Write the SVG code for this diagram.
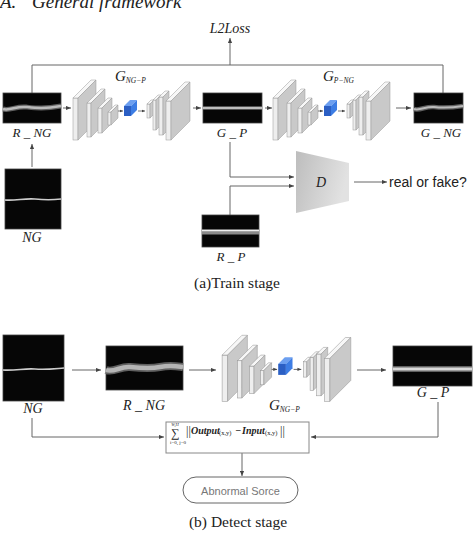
<svg xmlns="http://www.w3.org/2000/svg" width="474" height="556" viewBox="0 0 474 556">
<style>
.ln{fill:none;stroke:#666;stroke-width:1}
.ar{fill:none;stroke:#666;stroke-width:1;marker-end:url(#ah)}
.as{fill:none;stroke:#555;stroke-width:0.8;marker-end:url(#ahs)}
.img{fill:#060606;stroke:#444;stroke-width:0.8}
.it{font-family:"Liberation Serif","Times New Roman",serif;font-style:italic;fill:#222}
.rm{font-family:"Liberation Serif","Times New Roman",serif;fill:#222}
.sa{font-family:"Liberation Sans",Arial,sans-serif;fill:#222}
.fr{fill:#eeeeee;stroke:#999;stroke-width:0.5}
.tp{fill:#f7f7f7;stroke:#999;stroke-width:0.5}
.sd{fill:#c9c9c9;stroke:#999;stroke-width:0.5}
.fm{font-family:"Liberation Serif","Times New Roman",serif;font-style:italic;font-weight:bold;fill:#222}
</style>
<defs>
<marker id="ah" viewBox="0 0 6 6" refX="6" refY="3" markerWidth="5" markerHeight="5" markerUnits="userSpaceOnUse" orient="auto"><path d="M0,0.5 L6,3 L0,5.5 z" fill="#444"/></marker>
<marker id="ahs" viewBox="0 0 6 6" refX="6" refY="3" markerWidth="3.5" markerHeight="3.5" markerUnits="userSpaceOnUse" orient="auto"><path d="M0,0.5 L6,3 L0,5.5 z" fill="#444"/></marker>
<linearGradient id="dg" x1="0" y1="0" x2="1" y2="0.3"><stop offset="0" stop-color="#bdbdbd"/><stop offset="1" stop-color="#e2e2e2"/></linearGradient>
<g id="gen">
<rect class="fr" x="1" y="21" width="5" height="42"/>
<polygon class="tp" points="1,21 19,3 24,3 6,21"/>
<polygon class="sd" points="6,21 24,3 24,45 6,63"/>
<rect class="fr" x="15" y="26" width="4" height="34"/>
<polygon class="tp" points="15,26 29,12 33,12 19,26"/>
<polygon class="sd" points="19,26 33,12 33,46 19,60"/>
<rect class="fr" x="26" y="31" width="4" height="25"/>
<polygon class="tp" points="26,31 36,21 40,21 30,31"/>
<polygon class="sd" points="30,31 40,21 40,46 30,56"/>
<rect class="fr" x="36" y="35" width="3" height="13"/>
<polygon class="tp" points="36,35 43,28 46,28 39,35"/>
<polygon class="sd" points="39,35 46,28 46,41 39,48"/>
<path class="as" d="M46,34 H51"/>
<rect x="52" y="29" width="7" height="10" fill="#2b5fc4"/>
<polygon points="52,29 58,23 65,23 59,29" fill="#6c9ff0"/>
<polygon points="59,29 65,23 65,33 59,39" fill="#3d7de4"/>
<path class="as" d="M66,34 H73"/>
<rect class="fr" x="75" y="27" width="3" height="14"/>
<polygon class="tp" points="75,27 79,23 82,23 78,27"/>
<polygon class="sd" points="78,27 82,23 82,37 78,41"/>
<rect class="fr" x="81" y="23" width="3" height="30"/>
<polygon class="tp" points="81,23 86,18 89,18 84,23"/>
<polygon class="sd" points="84,23 89,18 89,48 84,53"/>
<rect class="fr" x="87" y="20" width="4" height="38"/>
<polygon class="tp" points="87,20 93,14 97,14 91,20"/>
<polygon class="sd" points="91,20 97,14 97,52 91,58"/>
<rect class="fr" x="94" y="24" width="5" height="39"/>
<polygon class="tp" points="94,24 113,5 118,5 99,24"/>
<polygon class="sd" points="99,24 118,5 118,44 99,63"/>
</g>
</defs>
<rect width="474" height="556" fill="#fff"/>

<text class="it" y="8" font-size="19"><tspan x="0">A.</tspan><tspan x="32">General framework</tspan></text>

<g id="connectors">
<path class="ln" d="M32,93 V65 H443 V93"/>
<path class="ar" d="M230,65 V38"/>
<path class="ar" d="M32,167 V144"/>
<path class="ar" d="M63,108 H71"/>
<path class="ar" d="M193,108 H201"/>
<path class="ar" d="M265,108 H272"/>
<path class="ar" d="M396,108 H411"/>
<path class="ar" d="M230,142 V177 H294"/>
<path class="ar" d="M230,215 V186 H294"/>
<path class="ar" d="M354,182 H387"/>
<path class="ar" d="M72,370 H101"/>
<path class="ar" d="M189,370 H216"/>
<path class="ar" d="M357,370 H386"/>
<path class="ar" d="M32,418 V437 H164"/>
<path class="ar" d="M438,402 V437 H311"/>
<path class="ar" d="M242,453 V476"/>
</g>

<g id="l2loss"><text class="it" x="230" y="33" font-size="14" text-anchor="middle">L2Loss</text></g>

<g id="r_ng_top">
<rect class="img" x="3" y="93" width="58" height="30"/>
<path d="M3,109 C10,111 16,106 26,107 S44,109 61,106" fill="none" stroke="#777" stroke-width="5" opacity="0.8"/>
<path d="M3,109 C10,111 16,106 26,107 S44,109 61,106" fill="none" stroke="#bbb" stroke-width="2.5"/>
<text class="it" x="32" y="137" font-size="13" text-anchor="middle">R _ NG</text>
</g>

<g id="gen1"><use href="#gen" transform="translate(72,77)"/>
<text class="it" x="115" y="81" font-size="15">G<tspan font-size="7.5" dy="2">NG−P</tspan></text></g>

<g id="g_p_top">
<rect class="img" x="203" y="93" width="59" height="30"/>
<path d="M203,108 H262" stroke="#666" stroke-width="4" opacity="0.8"/>
<path d="M203,108 H262" stroke="#e4e4e4" stroke-width="1.5"/>
<text class="it" x="232" y="137" font-size="13" text-anchor="middle">G _ P</text>
</g>

<g id="gen2"><use href="#gen" transform="translate(272,77)"/>
<text class="it" x="323" y="81" font-size="15">G<tspan font-size="7.5" dy="2">P−NG</tspan></text></g>

<g id="g_ng_top">
<rect class="img" x="414" y="93" width="49" height="30"/>
<path d="M414,109 C420,111 426,106 434,107 S450,108 463,106" fill="none" stroke="#777" stroke-width="4.5" opacity="0.8"/>
<path d="M414,109 C420,111 426,106 434,107 S450,108 463,106" fill="none" stroke="#bbb" stroke-width="2"/>
<text class="it" x="441" y="137" font-size="13" text-anchor="middle">G _ NG</text>
</g>

<g id="ng_top">
<rect class="img" x="5" y="169" width="56" height="60"/>
<path d="M5,200 C15,201 25,198 35,199 S52,200 61,199" fill="none" stroke="#ccc" stroke-width="1.6"/>
<text class="it" x="32" y="242" font-size="14" text-anchor="middle">NG</text>
</g>

<g id="r_p">
<rect class="img" x="202" y="215" width="57" height="32"/>
<path d="M202,232 H259" stroke="#8a8a8a" stroke-width="5"/>
<path d="M202,230.5 H259" stroke="#eee" stroke-width="1.5"/>
<text class="it" x="231" y="261" font-size="13" text-anchor="middle">R _ P</text>
</g>

<g id="d">
<polygon points="296,151 349,163 349,201 296,213" fill="url(#dg)"/>
<text class="it" x="321" y="187" font-size="14" text-anchor="middle">D</text>
</g>
<text class="sa" x="389" y="187" font-size="14">real or fake?</text>

<text class="rm" x="237" y="288" font-size="15.5" text-anchor="middle">(a)Train stage</text>

<g id="ng_bot">
<rect class="img" x="3" y="335" width="61" height="66"/>
<path d="M3,370 C15,371 25,368 35,369 S52,369 64,368" fill="none" stroke="#ccc" stroke-width="1.6"/>
<text class="it" x="33" y="413" font-size="14" text-anchor="middle">NG</text>
</g>

<g id="r_ng_bot">
<rect class="img" x="106" y="346" width="77" height="44"/>
<path d="M106,370 C114,373 120,366 130,367 S150,369 160,367 S175,366 183,367" fill="none" stroke="#777" stroke-width="8" opacity="0.8"/>
<path d="M106,370 C114,373 120,366 130,367 S150,369 160,367 S175,366 183,367" fill="none" stroke="#b5b5b5" stroke-width="4.5"/>
<text class="it" x="144" y="410" font-size="14" text-anchor="middle">R _ NG</text>
</g>

<g id="gen3"><use href="#gen" transform="translate(221,332) scale(1.1)"/>
<text class="it" x="269" y="410" font-size="15">G<tspan font-size="7.5" dy="2">NG−P</tspan></text></g>

<g id="g_p_bot">
<rect class="img" x="393" y="346" width="79" height="40"/>
<path d="M393,369 H472" stroke="#777" stroke-width="6" opacity="0.8"/>
<path d="M393,369 H472" stroke="#d8d8d8" stroke-width="3"/>
<text class="it" x="433" y="397" font-size="14" text-anchor="middle">G _ P</text>
</g>

<g id="formula">
<rect x="166" y="422" width="143" height="31" fill="#fff" stroke="#888" stroke-width="1"/>
<text class="rm" x="175" y="437" font-size="12" text-anchor="middle">∑</text>
<text class="it" x="175" y="426" font-size="4.5" text-anchor="middle">W,H</text>
<text class="rm" x="178" y="444" font-size="5" text-anchor="middle">i=0, j=0</text>
<text class="rm" x="186" y="434.5" font-size="12">||</text>
<text class="fm" x="191" y="434" font-size="10">Output</text>
<text class="rm" x="219" y="435" font-size="6.5">(x,y)</text>
<text class="fm" x="235" y="434" font-size="10">−</text>
<text class="fm" x="242" y="434" font-size="10">Input</text>
<text class="rm" x="265" y="435" font-size="6.5">(x,y)</text>
<text class="rm" x="280" y="434.5" font-size="12">||</text>
</g>

<g id="score">
<rect x="183" y="477" width="115" height="26" rx="13" fill="#fff" stroke="#666" stroke-width="1"/>
<text class="sa" x="240.5" y="494.5" font-size="11" text-anchor="middle" style="fill:#777">Abnormal Sorce</text>
</g>

<text class="rm" x="238" y="527" font-size="15.5" text-anchor="middle">(b) Detect stage</text>
</svg>
